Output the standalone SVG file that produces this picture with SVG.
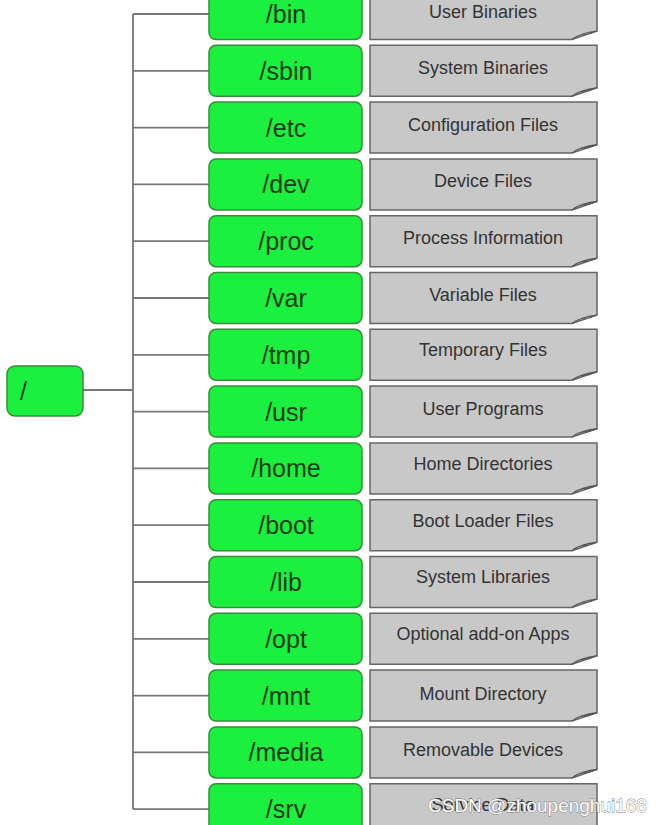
<svg xmlns="http://www.w3.org/2000/svg" width="662" height="825" viewBox="0 0 662 825">
<defs>
<style>
.g{fill:#1cf03e;stroke:#3b8a3b;stroke-width:1.5}
.gt{font-family:"Liberation Sans",Arial,sans-serif;font-size:25px;fill:#173a17;text-anchor:middle;dominant-baseline:central}
.d{fill:#c8c8c8;stroke:#666;stroke-width:1.5}
.f{fill:#e8e8e8;stroke:#555;stroke-width:1.2}
.dt{font-family:"Liberation Sans",Arial,sans-serif;font-size:18px;fill:#333;text-anchor:middle;dominant-baseline:central}
.c{stroke:#777;stroke-width:1.8;fill:none}
.wm{font-family:"Liberation Sans",Arial,sans-serif;font-size:19px;fill:#fff;stroke:#777;stroke-width:0.8;paint-order:stroke}
</style>
</defs>
<rect width="662" height="825" fill="#fff"/>
<g id="connectors">
<path class="c" d="M83,390H133M133,14V809"/>
<path class="c" d="M133,14H209M133,70.8H209M133,127.6H209M133,184.4H209M133,241.2H209M133,298H209M133,354.8H209M133,411.6H209M133,468.4H209M133,525.2H209M133,582H209M133,638.8H209M133,695.6H209M133,752.4H209M133,809.2H209"/>
</g>
<g id="root"><rect class="g" x="7" y="366" width="76" height="50" rx="8"/><text class="gt" x="20" y="391" style="text-anchor:start">/</text></g>
<g id="bin" transform="translate(0,14)"><rect class="g" x="209" y="-25.5" width="153" height="51" rx="7"/><text class="gt" x="286" y="0">/bin</text><path class="d" d="M370,-25.5H597V17L572,25.5H370Z"/><path class="f" d="M597,17Q580,19 572,25.5Q578,20 588,20Z"/><text class="dt" x="483" y="-2">User Binaries</text></g>
<g id="sbin" transform="translate(0,70.8)"><rect class="g" x="209" y="-25.5" width="153" height="51" rx="7"/><text class="gt" x="286" y="0">/sbin</text><path class="d" d="M370,-25.5H597V17L572,25.5H370Z"/><path class="f" d="M597,17Q580,19 572,25.5Q578,20 588,20Z"/><text class="dt" x="483" y="-3">System Binaries</text></g>
<g id="etc" transform="translate(0,127.6)"><rect class="g" x="209" y="-25.5" width="153" height="51" rx="7"/><text class="gt" x="286" y="0">/etc</text><path class="d" d="M370,-25.5H597V17L572,25.5H370Z"/><path class="f" d="M597,17Q580,19 572,25.5Q578,20 588,20Z"/><text class="dt" x="483" y="-3">Configuration Files</text></g>
<g id="dev" transform="translate(0,184.4)"><rect class="g" x="209" y="-25.5" width="153" height="51" rx="7"/><text class="gt" x="286" y="0">/dev</text><path class="d" d="M370,-25.5H597V17L572,25.5H370Z"/><path class="f" d="M597,17Q580,19 572,25.5Q578,20 588,20Z"/><text class="dt" x="483" y="-3">Device Files</text></g>
<g id="proc" transform="translate(0,241.2)"><rect class="g" x="209" y="-25.5" width="153" height="51" rx="7"/><text class="gt" x="286" y="0">/proc</text><path class="d" d="M370,-25.5H597V17L572,25.5H370Z"/><path class="f" d="M597,17Q580,19 572,25.5Q578,20 588,20Z"/><text class="dt" x="483" y="-3">Process Information</text></g>
<g id="var" transform="translate(0,298)"><rect class="g" x="209" y="-25.5" width="153" height="51" rx="7"/><text class="gt" x="286" y="0">/var</text><path class="d" d="M370,-25.5H597V17L572,25.5H370Z"/><path class="f" d="M597,17Q580,19 572,25.5Q578,20 588,20Z"/><text class="dt" x="483" y="-3">Variable Files</text></g>
<g id="tmp" transform="translate(0,354.8)"><rect class="g" x="209" y="-25.5" width="153" height="51" rx="7"/><text class="gt" x="286" y="0">/tmp</text><path class="d" d="M370,-25.5H597V17L572,25.5H370Z"/><path class="f" d="M597,17Q580,19 572,25.5Q578,20 588,20Z"/><text class="dt" x="483" y="-5">Temporary Files</text></g>
<g id="usr" transform="translate(0,411.6)"><rect class="g" x="209" y="-25.5" width="153" height="51" rx="7"/><text class="gt" x="286" y="0">/usr</text><path class="d" d="M370,-25.5H597V17L572,25.5H370Z"/><path class="f" d="M597,17Q580,19 572,25.5Q578,20 588,20Z"/><text class="dt" x="483" y="-3">User Programs</text></g>
<g id="home" transform="translate(0,468.4)"><rect class="g" x="209" y="-25.5" width="153" height="51" rx="7"/><text class="gt" x="286" y="0">/home</text><path class="d" d="M370,-25.5H597V17L572,25.5H370Z"/><path class="f" d="M597,17Q580,19 572,25.5Q578,20 588,20Z"/><text class="dt" x="483" y="-4">Home Directories</text></g>
<g id="boot" transform="translate(0,525.2)"><rect class="g" x="209" y="-25.5" width="153" height="51" rx="7"/><text class="gt" x="286" y="0">/boot</text><path class="d" d="M370,-25.5H597V17L572,25.5H370Z"/><path class="f" d="M597,17Q580,19 572,25.5Q578,20 588,20Z"/><text class="dt" x="483" y="-4">Boot Loader Files</text></g>
<g id="lib" transform="translate(0,582)"><rect class="g" x="209" y="-25.5" width="153" height="51" rx="7"/><text class="gt" x="286" y="0">/lib</text><path class="d" d="M370,-25.5H597V17L572,25.5H370Z"/><path class="f" d="M597,17Q580,19 572,25.5Q578,20 588,20Z"/><text class="dt" x="483" y="-5">System Libraries</text></g>
<g id="opt" transform="translate(0,638.8)"><rect class="g" x="209" y="-25.5" width="153" height="51" rx="7"/><text class="gt" x="286" y="0">/opt</text><path class="d" d="M370,-25.5H597V17L572,25.5H370Z"/><path class="f" d="M597,17Q580,19 572,25.5Q578,20 588,20Z"/><text class="dt" x="483" y="-5">Optional add-on Apps</text></g>
<g id="mnt" transform="translate(0,695.6)"><rect class="g" x="209" y="-25.5" width="153" height="51" rx="7"/><text class="gt" x="286" y="0">/mnt</text><path class="d" d="M370,-25.5H597V17L572,25.5H370Z"/><path class="f" d="M597,17Q580,19 572,25.5Q578,20 588,20Z"/><text class="dt" x="483" y="-2">Mount Directory</text></g>
<g id="media" transform="translate(0,752.4)"><rect class="g" x="209" y="-25.5" width="153" height="51" rx="7"/><text class="gt" x="286" y="0">/media</text><path class="d" d="M370,-25.5H597V17L572,25.5H370Z"/><path class="f" d="M597,17Q580,19 572,25.5Q578,20 588,20Z"/><text class="dt" x="483" y="-2">Removable Devices</text></g>
<g id="srv" transform="translate(0,809.2)"><rect class="g" x="209" y="-25.5" width="153" height="51" rx="7"/><text class="gt" x="286" y="0">/srv</text><path class="d" d="M370,-25.5H597V17L572,25.5H370Z"/><text class="dt" x="483" y="-4">Service Data</text></g>
<text class="wm" x="428" y="812">CSDN @zhoupenghui168</text>
</svg>
